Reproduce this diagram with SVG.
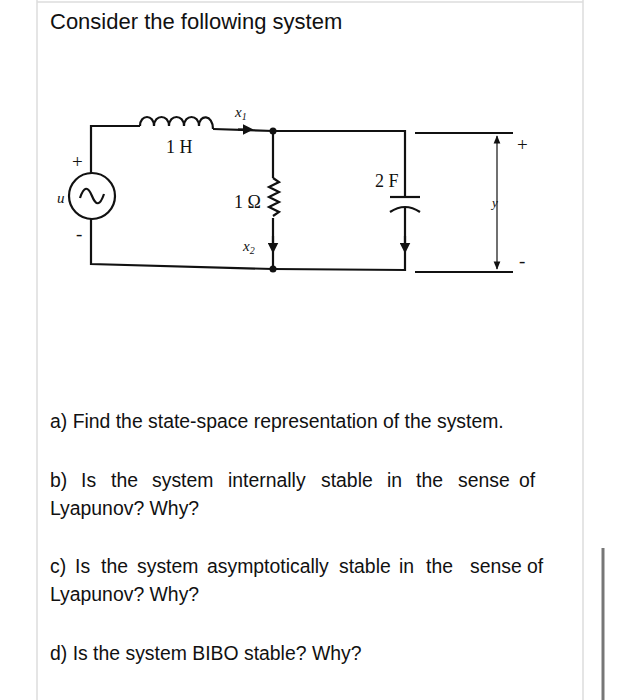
<svg xmlns="http://www.w3.org/2000/svg" width="620" height="700" viewBox="0 0 620 700">
<defs>
<style>
.w{fill:none;stroke:#111;stroke-width:2.2}
.t{font-family:"Liberation Sans",Arial,sans-serif;fill:#111}
.s{font-family:"Liberation Serif","Times New Roman",serif;fill:#111}
</style>
<marker id="ah" viewBox="0 0 10 10" refX="5" refY="5" markerWidth="5" markerHeight="5" orient="auto" markerUnits="strokeWidth"><path d="M0,0L10,5L0,10z" fill="#111"/></marker>
<marker id="as" viewBox="0 0 10 10" refX="9" refY="5" markerWidth="7" markerHeight="7" orient="auto-start-reverse" markerUnits="strokeWidth"><path d="M0,1L10,5L0,9z" fill="#111"/></marker>
</defs>
<rect width="620" height="700" fill="#fff"/>
<path d="M37,0V700M583,0V700M37,2H583" stroke="#ddd" stroke-width="1.5" fill="none"/>
<line x1="603" y1="548" x2="603" y2="700" stroke="#777" stroke-width="3"/>
<text class="t" x="50" y="29" font-size="22">Consider the following system</text>
<g id="connectors">
<path class="w" d="M91,173V126H140M213,129L273,131H405V197M405,207V270L273,269L91,264V219"/>
<path class="w" d="M273,131V178M273,218V269"/>
<path class="w" d="M140,126c0,-12 14,-12 14,0c0,-12 15,-12 15,0c0,-12 15,-12 15,0c0,-12 15,-12 15,0c0,-12 14,-12 14,3"/>
<path class="w" d="M273,178l6,4l-10,5l10,5l-10,5l10,5l-10,5l10,5l-6,4"/>
<path d="M238,129.5h10" class="w" marker-end="url(#ah)"/>
<path d="M273,236v12" class="w" marker-end="url(#ah)"/>
<path d="M405,236v12" class="w" marker-end="url(#ah)"/>
<circle cx="273" cy="131" r="3.5" fill="#111"/><circle cx="273" cy="269" r="3.5" fill="#111"/>
<path d="M415,133H513M415,272H513" class="w" stroke-width="1.5"/>
<line x1="497" y1="136" x2="497" y2="269" stroke="#111" stroke-width="1.2" marker-start="url(#as)" marker-end="url(#as)"/>
</g>
<g id="source"><circle cx="92" cy="196" r="23" class="w"/><path class="w" d="M80,198c4,-12 8,-12 12,-2s8,10 12,-2"/>
<text class="s" x="72" y="168" font-size="19">+</text><text class="s" x="76" y="240" font-size="19">-</text><text class="s" x="57" y="203" font-size="15" font-style="italic">u</text></g>
<g id="inductor"><text class="s" x="166" y="153" font-size="18">1 H</text><text class="s" x="235" y="117" font-size="15" font-style="italic">x<tspan font-size="10" dy="3">1</tspan></text></g>
<g id="resistor"><text class="s" x="234" y="208" font-size="18">1 Ω</text><text class="s" x="243" y="251" font-size="15" font-style="italic">x<tspan font-size="10" dy="3">2</tspan></text></g>
<g id="capacitor"><line x1="390" y1="197" x2="420" y2="197" class="w"/><path class="w" d="M390,212q15,-10 30,0"/><text class="s" x="375" y="187" font-size="18">2 F</text></g>
<g id="output"><text class="s" x="517" y="151" font-size="19">+</text><text class="s" x="519" y="267" font-size="19">-</text><text class="s" x="492" y="207" font-size="13" font-style="italic">y</text></g>
<g class="t" font-size="19.4">
<text x="50" y="428">a) Find the state-space representation of the system.</text>
<text y="487"><tspan x="50">b)</tspan><tspan x="81">Is</tspan><tspan x="111">the</tspan><tspan x="152">system</tspan><tspan x="228">internally</tspan><tspan x="321">stable</tspan><tspan x="387">in</tspan><tspan x="416">the</tspan><tspan x="458">sense</tspan><tspan x="519">of</tspan></text>
<text x="50" y="515">Lyapunov? Why?</text>
<text y="573"><tspan x="50">c)</tspan><tspan x="75">Is</tspan><tspan x="101">the</tspan><tspan x="137">system</tspan><tspan x="207">asymptotically</tspan><tspan x="339">stable</tspan><tspan x="399">in</tspan><tspan x="426">the</tspan><tspan x="470">sense</tspan><tspan x="527">of</tspan></text>
<text x="50" y="601">Lyapunov? Why?</text>
<text x="50" y="660">d) Is the system BIBO stable? Why?</text>
</g>
</svg>
